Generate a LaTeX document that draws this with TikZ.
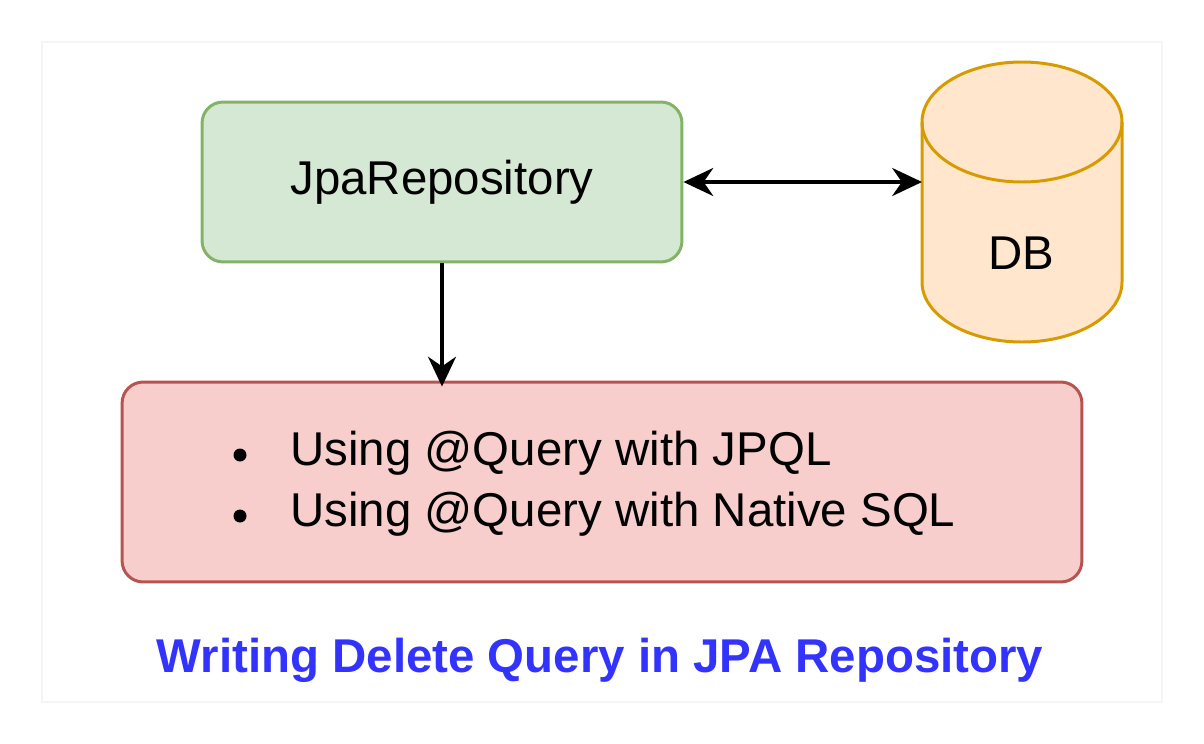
\documentclass[tikz,border=0pt]{standalone}
\usepackage{fontspec}
\setmainfont{Liberation Sans}
\usetikzlibrary{arrows.meta,positioning}
\definecolor{gfill}{HTML}{D5E8D4}\definecolor{gdraw}{HTML}{82B366}
\definecolor{ofill}{HTML}{FFE6CC}\definecolor{odraw}{HTML}{D79B00}
\definecolor{rfill}{HTML}{F8CECC}\definecolor{rdraw}{HTML}{B85450}
\definecolor{ttl}{HTML}{3333FF}
\begin{document}
\begin{tikzpicture}[x=0.02cm,y=-0.02cm,
  box/.style={rectangle, draw, line width=1.7pt, rounded corners=12pt, align=left, font=\fontsize{27}{34}\selectfont},
  arr/.style={-{Stealth[length=17pt,width=16pt]}, line width=1.8pt},
  every node/.style={inner sep=0pt}
]
\useasboundingbox (0,0) rectangle (1204,744);
\draw[black!4, line width=0.6pt] (42,42) rectangle (1162,702);

% Repository
\node[box, fill=gfill, draw=gdraw, minimum width=9.6cm, minimum height=3.2cm] (repo) at (442,182) {JpaRepository};

% Database
\draw[draw=odraw, fill=ofill, line width=1.7pt] (922,122) -- (922,282) arc[start angle=180, end angle=0, x radius=100, y radius=60] -- (1122,122) arc[start angle=0, end angle=-180, x radius=100, y radius=60] -- cycle;
\draw[draw=odraw, line width=1.7pt] (922,122) arc[start angle=180, end angle=0, x radius=100, y radius=60];
\node[font=\fontsize{27}{34}\selectfont] (db) at (1021,253) {DB};
\coordinate (dbl) at (922,182);
\draw[arr, {Stealth[length=17pt,width=16pt]}-{Stealth[length=17pt,width=16pt]}] (repo.east) -- (dbl);

% Queries
\node[box, fill=rfill, draw=rdraw, minimum width=19.2cm, minimum height=4cm] (query) at (602,482) {};
\node[font=\fontsize{27}{34}\selectfont, anchor=west] (q1) at (290,453) {Using @Query with JPQL};
\node[font=\fontsize{27}{34}\selectfont, anchor=west] (q2) at (290,514) {Using @Query with Native SQL};
\fill (240,455) circle (6.5);
\fill (240,516) circle (6.5);
\draw[arr] (repo.south) -- ([yshift=-0.12cm]query.north -| repo.south);

% Title
\node[font=\bfseries\fontsize{27}{34}\selectfont, text=ttl] (title) at (600,660) {Writing Delete Query in JPA Repository};
\end{tikzpicture}
\end{document}
